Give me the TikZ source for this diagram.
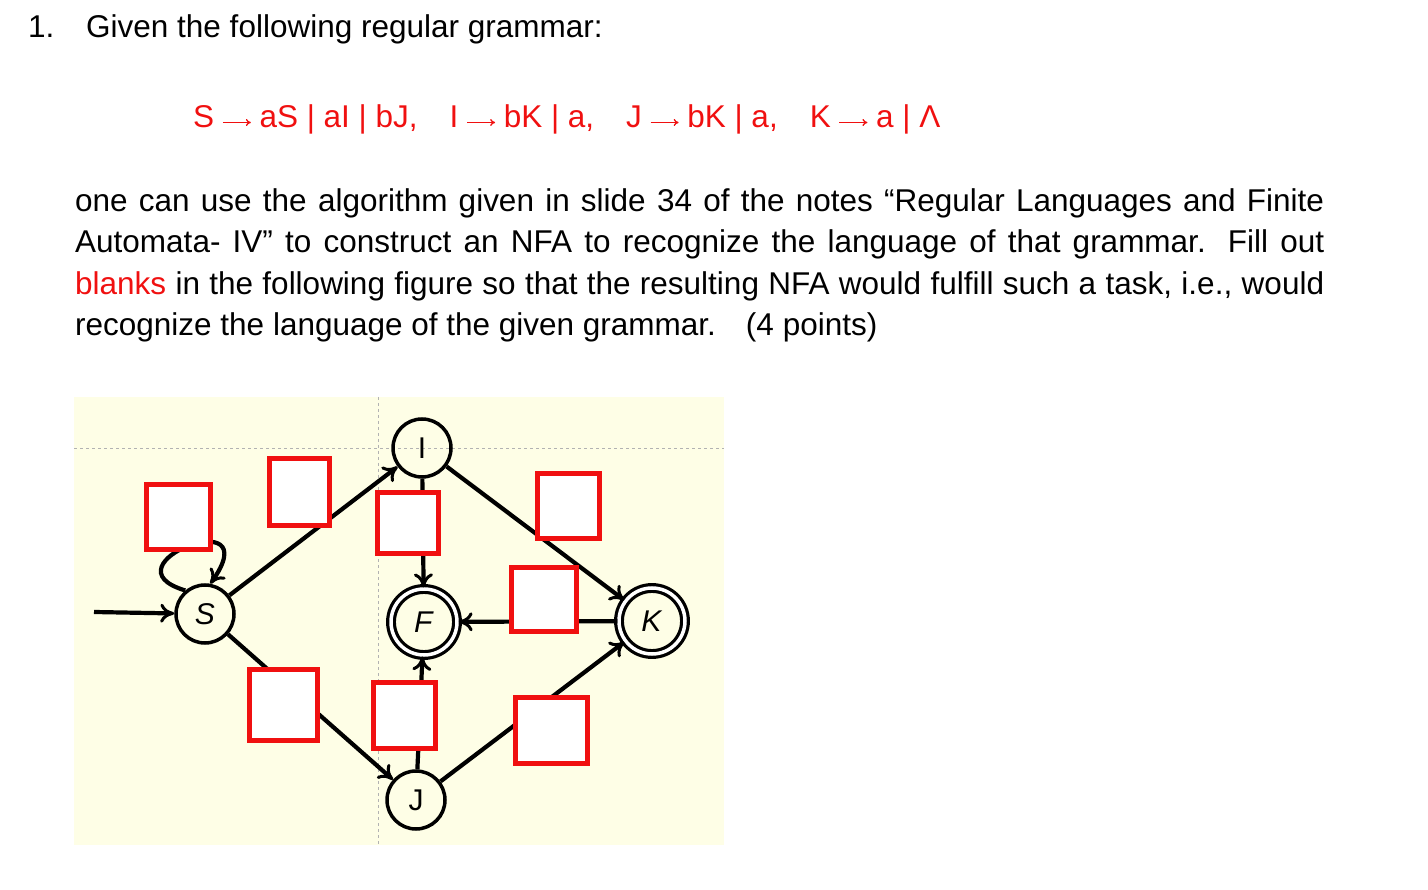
\documentclass[tikz,border=0pt]{standalone}
\usepackage{fontspec}
\setmainfont{Liberation Sans}
\usetikzlibrary{arrows.meta}
\definecolor{bg}{HTML}{FEFEE6}
\definecolor{rd}{HTML}{F01010}
\newcommand{\arr}{\hspace{8pt}\raisebox{2pt}{\tikz\draw[line width=1.3pt,-{To[length=5pt,width=7pt]}] (0,0) -- (28pt,0);}\hspace{8pt}}
\begin{document}
\begin{tikzpicture}[x=1pt,y=-1pt,
  txt/.style={anchor=base west,inner sep=0pt,font=\fontsize{31.5}{36}\selectfont},
  st/.style={circle,draw,line width=3.5pt,minimum size=58pt,inner sep=0pt,font=\fontsize{30}{32}\selectfont},
  fin/.style={st,double,double distance=3.5pt,line width=3.2pt,minimum size=66pt},
  ed/.style={line width=4.2pt,-{To[length=14pt,width=19pt,line width=3pt]}},
  box/.style={draw=rd,fill=white,line width=5pt}]
\useasboundingbox (0,0) rectangle (1428,890);
\fill[bg] (74,397) rectangle (724,845);
\draw[gray!60,dashed,line width=1pt] (74,449) -- (724,449);
\draw[gray!60,dashed,line width=1pt] (378,397) -- (378,845);
\node[txt] (n1) at (28,38) {1.};
\node[txt] (t1) at (86,38) {Given the following regular grammar:};
\node[txt,text=rd] (g) at (193,128) {S\arr aS | aI | bJ,\hspace{32pt}I\arr bK | a,\hspace{32pt}J\arr bK | a,\hspace{32pt}K\arr a | Λ};
\node[txt] (p1) at (75,212) {\hbox to 1249pt{one can use the algorithm given in slide 34 of the notes “Regular Languages and Finite}};
\node[txt] (p2) at (75,253) {\hbox to 1249pt{Automata- IV” to construct an NFA to recognize the language of that grammar. Fill out}};
\node[txt] (p3) at (75,295) {\hbox to 1249pt{\textcolor{rd}{blanks} in the following figure so that the resulting NFA would fulfill such a task, i.e., would}};
\node[txt] (p4) at (75,336) {recognize the language of the given grammar.\hspace{30pt}(4 points)};
\node[st] (S) at (205,614) {\textit{S}};
\node[st] (I) at (422,448) {I};
\node[fin] (F) at (424,622) {\textit{F}};
\node[fin] (K) at (652,621) {\textit{K}};
\node[st] (J) at (416,800) {J};
\coordinate (in) at (94,612);
\draw[ed] (in) -- (S);
\draw[ed] (S.130) .. controls (100,565) and (270,500) .. (S.80);
\draw[ed] (S) -- (I);
\draw[ed] (I) -- (F);
\draw[ed] (I) -- (K);
\draw[ed] (K) -- (F);
\draw[ed] (S) -- (J);
\draw[ed] (J) -- (F);
\draw[ed] (J) -- (K);
\draw[box] (146,485) rectangle (210,549);
\draw[box] (269,459) rectangle (329,526);
\draw[box] (377,493) rectangle (438,553);
\draw[box] (537,474) rectangle (599,538);
\draw[box] (511,567) rectangle (576,631);
\draw[box] (249,669) rectangle (317,740);
\draw[box] (373,682) rectangle (435,748);
\draw[box] (515,697) rectangle (587,763);
\end{tikzpicture}
\end{document}
